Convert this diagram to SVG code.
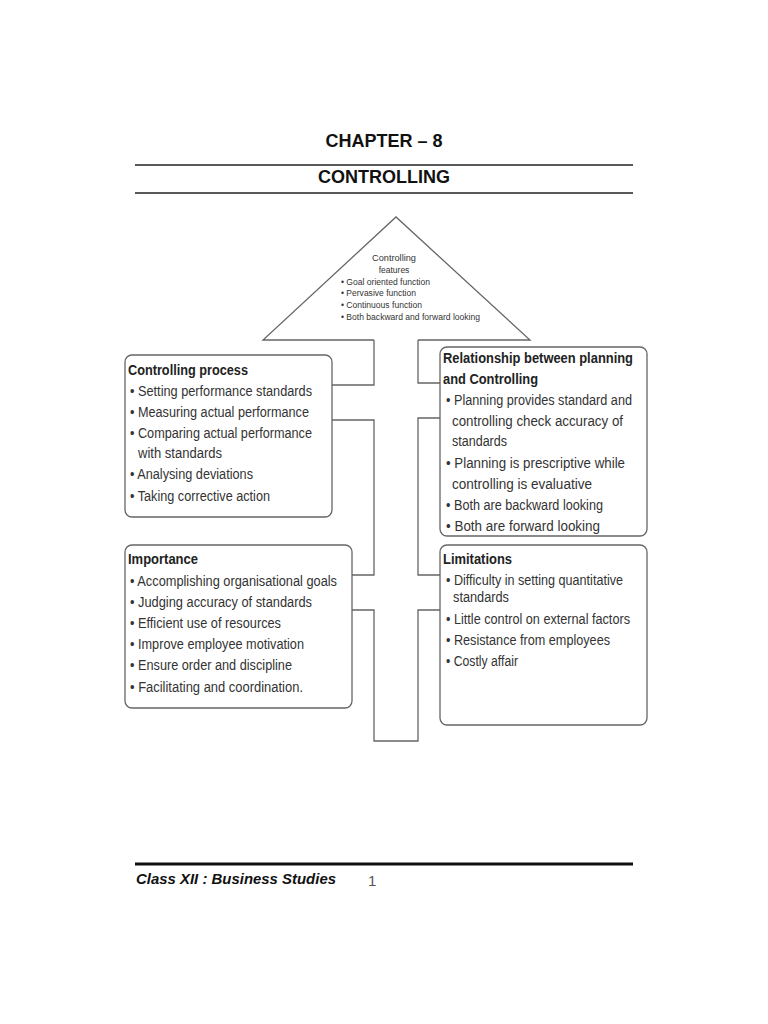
<svg xmlns="http://www.w3.org/2000/svg" width="768" height="1024" viewBox="0 0 768 1024">
<style>
.t{font-family:"Liberation Sans",Arial,sans-serif;fill:#333;}
.b{font-size:14px;}
.h{font-size:14px;font-weight:bold;fill:#222;}
.s{font-size:8.5px;fill:#333;}
.box{fill:none;stroke:#666;stroke-width:1.3;}
.ln{fill:none;stroke:#666;stroke-width:1.3;}
.title{font-family:"Liberation Sans",Arial,sans-serif;font-size:18px;font-weight:bold;fill:#111;text-anchor:middle;}
</style>
<rect width="768" height="1024" fill="#fff"/>
<g id="header">
<text class="title" x="384" y="147">CHAPTER – 8</text>
<line x1="135" y1="165" x2="633" y2="165" stroke="#222" stroke-width="1.3"/>
<text class="title" x="384" y="183">CONTROLLING</text>
<line x1="135" y1="193" x2="633" y2="193" stroke="#222" stroke-width="1.3"/>
</g>
<g id="features">
<path class="ln" d="M374,340 H263 L396,217 L530,340 H418"/>
<text class="t s" x="394" y="261" text-anchor="middle" textLength="44" lengthAdjust="spacingAndGlyphs">Controlling</text>
<text class="t s" x="394" y="273" text-anchor="middle">features</text>
<text class="t s" x="341" y="285" textLength="89" lengthAdjust="spacingAndGlyphs">• Goal oriented function</text>
<text class="t s" x="341" y="296" textLength="75" lengthAdjust="spacingAndGlyphs">• Pervasive function</text>
<text class="t s" x="341" y="308" textLength="81" lengthAdjust="spacingAndGlyphs">• Continuous function</text>
<text class="t s" x="341" y="320" textLength="139" lengthAdjust="spacingAndGlyphs">• Both backward and forward looking</text>
</g>
<g id="connectors">
<path class="ln" d="M332,385 H374 V340"/>
<path class="ln" d="M418,340 V383 H440"/>
<path class="ln" d="M332,420 H374 V575 H352"/>
<path class="ln" d="M352,610 H374 V741 H418 V610 H440"/>
<path class="ln" d="M440,418 H418 V575 H440"/>
</g>
<g id="process">
<rect class="box" x="125" y="355" width="207" height="162" rx="7"/>
<text class="t h" x="128" y="375" textLength="120" lengthAdjust="spacingAndGlyphs">Controlling process</text>
<text class="t b" x="130" y="396" textLength="182" lengthAdjust="spacingAndGlyphs">• Setting performance standards</text>
<text class="t b" x="130" y="417" textLength="179" lengthAdjust="spacingAndGlyphs">• Measuring actual performance</text>
<text class="t b" x="130" y="438" textLength="182" lengthAdjust="spacingAndGlyphs">• Comparing actual performance</text>
<text class="t b" x="138" y="458" textLength="84" lengthAdjust="spacingAndGlyphs">with standards</text>
<text class="t b" x="130" y="479" textLength="123" lengthAdjust="spacingAndGlyphs">• Analysing deviations</text>
<text class="t b" x="130" y="501" textLength="140" lengthAdjust="spacingAndGlyphs">• Taking corrective action</text>
</g>
<g id="relationship">
<rect class="box" x="440" y="347" width="207" height="189" rx="7"/>
<text class="t h" x="443" y="363" textLength="190" lengthAdjust="spacingAndGlyphs">Relationship between planning</text>
<text class="t h" x="443" y="384" textLength="95" lengthAdjust="spacingAndGlyphs">and Controlling</text>
<text class="t b" x="446" y="405" textLength="186" lengthAdjust="spacingAndGlyphs">• Planning provides standard and</text>
<text class="t b" x="452" y="426" textLength="171" lengthAdjust="spacingAndGlyphs">controlling check accuracy of</text>
<text class="t b" x="452" y="446" textLength="55" lengthAdjust="spacingAndGlyphs">standards</text>
<text class="t b" x="446" y="468" textLength="179" lengthAdjust="spacingAndGlyphs">• Planning is prescriptive while</text>
<text class="t b" x="452" y="489" textLength="140" lengthAdjust="spacingAndGlyphs">controlling is evaluative</text>
<text class="t b" x="446" y="510" textLength="157" lengthAdjust="spacingAndGlyphs">• Both are backward looking</text>
<text class="t b" x="446" y="531" textLength="154" lengthAdjust="spacingAndGlyphs">• Both are forward looking</text>
</g>
<g id="importance">
<rect class="box" x="125" y="545" width="227" height="163" rx="7"/>
<text class="t h" x="128" y="564" textLength="70" lengthAdjust="spacingAndGlyphs">Importance</text>
<text class="t b" x="130" y="586" textLength="207" lengthAdjust="spacingAndGlyphs">• Accomplishing organisational goals</text>
<text class="t b" x="130" y="607" textLength="182" lengthAdjust="spacingAndGlyphs">• Judging accuracy of standards</text>
<text class="t b" x="130" y="628" textLength="151" lengthAdjust="spacingAndGlyphs">• Efficient use of resources</text>
<text class="t b" x="130" y="649" textLength="174" lengthAdjust="spacingAndGlyphs">• Improve employee motivation</text>
<text class="t b" x="130" y="670" textLength="162" lengthAdjust="spacingAndGlyphs">• Ensure order and discipline</text>
<text class="t b" x="130" y="692" textLength="173" lengthAdjust="spacingAndGlyphs">• Facilitating and coordination.</text>
</g>
<g id="limitations">
<rect class="box" x="440" y="545" width="207" height="180" rx="7"/>
<text class="t h" x="443" y="564" textLength="69" lengthAdjust="spacingAndGlyphs">Limitations</text>
<text class="t b" x="446" y="585" textLength="177" lengthAdjust="spacingAndGlyphs">• Difficulty in setting quantitative</text>
<text class="t b" x="453" y="602" textLength="56" lengthAdjust="spacingAndGlyphs">standards</text>
<text class="t b" x="446" y="624" textLength="184" lengthAdjust="spacingAndGlyphs">• Little control on external factors</text>
<text class="t b" x="446" y="645" textLength="164" lengthAdjust="spacingAndGlyphs">• Resistance from employees</text>
<text class="t b" x="446" y="666" textLength="72" lengthAdjust="spacingAndGlyphs">• Costly affair</text>
</g>
<g id="footer">
<line x1="135" y1="864" x2="633" y2="864" stroke="#111" stroke-width="3"/>
<text x="136" y="884" font-family="Liberation Sans, Arial, sans-serif" font-size="14.5" font-weight="bold" font-style="italic" fill="#111" textLength="200" lengthAdjust="spacingAndGlyphs">Class XII : Business Studies</text>
<text x="368" y="886" font-family="Liberation Sans, Arial, sans-serif" font-size="15" fill="#555">1</text>
</g>
</svg>
